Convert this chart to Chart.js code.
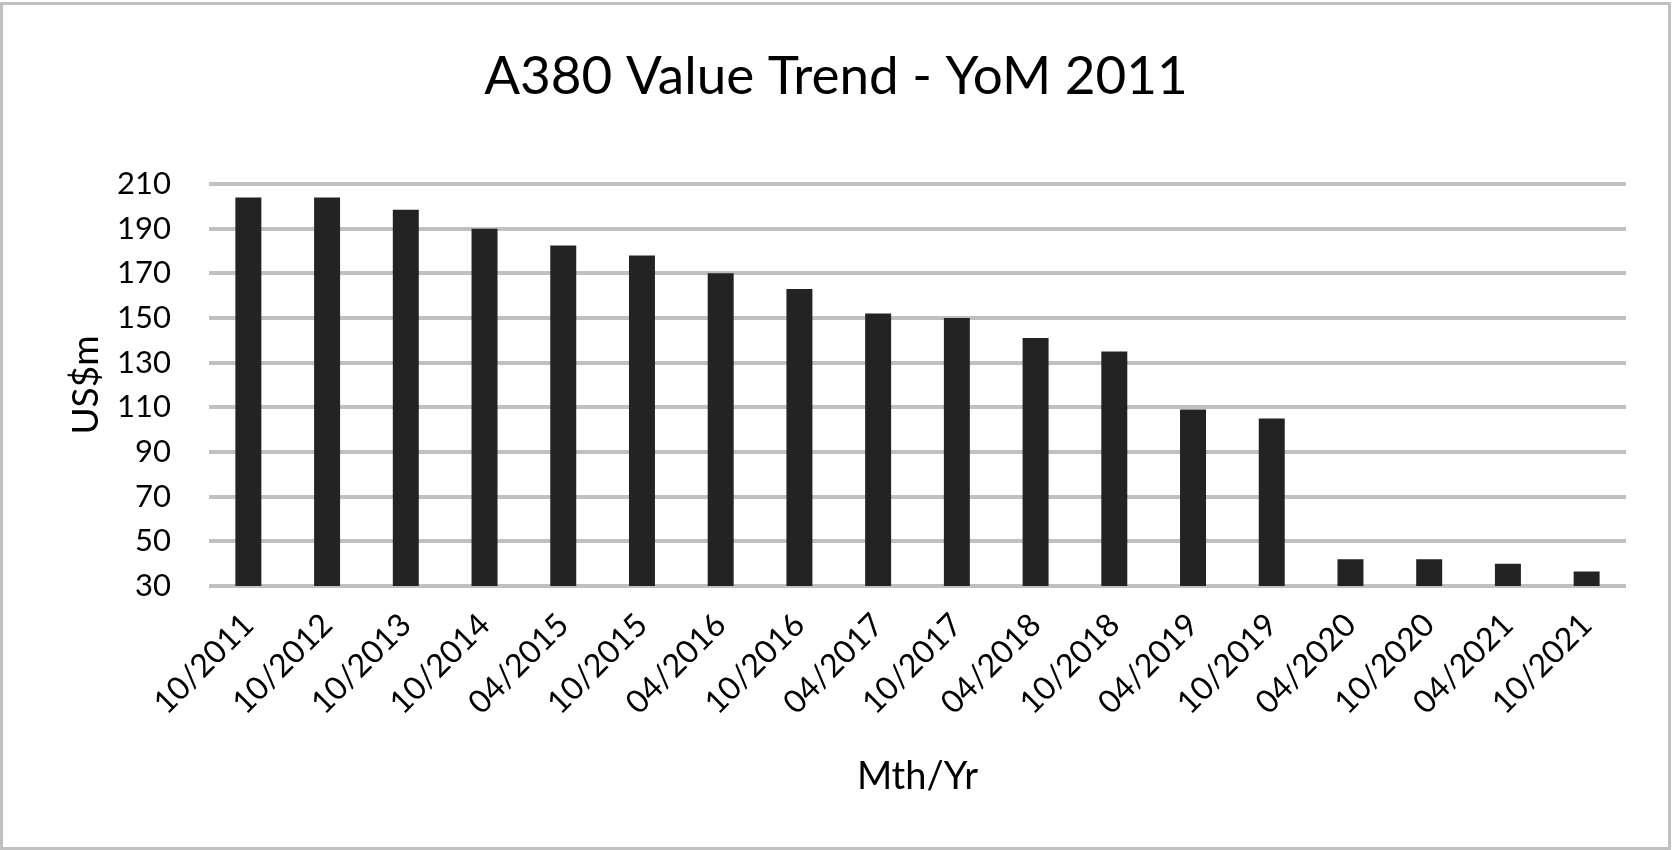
<!DOCTYPE html>
<html>
<head>
<meta charset="utf-8">
<script src="https://cdn.jsdelivr.net/npm/chart.js@4"></script>
<style>
  html, body { margin: 0; padding: 0; background: #fff; }
  #wrap { position: relative; width: 1677px; height: 850px; }
  #frame {
    position: absolute; left: 0; top: 2px; width: 1671px; height: 848px;
    box-sizing: border-box; border: 3px solid #c0c0c0; pointer-events: none;
  }
</style>
</head>
<body>
<div id="wrap">
  <canvas id="valueChart" width="1677" height="850"></canvas>
  <div id="frame"></div>
</div>
<script>
// A380 YoM 2011 values
const periods = [
  "10/2011", "10/2012", "10/2013", "10/2014", "04/2015", "10/2015",
  "04/2016", "10/2016", "04/2017", "10/2017", "04/2018", "10/2018",
  "04/2019", "10/2019", "04/2020", "10/2020", "04/2021", "10/2021"
];
const valuesUSDm = [
  204, 204, 198.5, 190, 182.5, 178,
  170, 163, 152, 150, 141, 135,
  109, 105, 42, 42, 40, 36.5
];
const yTicks = [30, 50, 70, 90, 110, 130, 150, 170, 190, 210];

const font = "Lato";

function renderChart() {
  const ctx = document.getElementById("valueChart").getContext("2d");

  new Chart(ctx, {
    type: "bar",
    data: {
      labels: periods,
      datasets: [
        {
          label: "US$m",
          data: valuesUSDm,
          backgroundColor: "#232323",
          barPercentage: 0.33,
          categoryPercentage: 1,
        },
      ],
    },
    options: {
      responsive: false,
      animation: false,
      devicePixelRatio: 1,
      layout: { padding: { left: 46, right: 51, top: 0, bottom: 50 } },
      plugins: {
        legend: { display: false },
        tooltip: { enabled: false },
        title: {
          display: true,
          text: "A380 Value Trend - YoM 2011",
          color: "#000",
          font: { family: font, size: 53, weight: "normal" },
          padding: { top: 45, bottom: 75.4 },
        },
      },
      scales: {
        x: {
          grid: { display: false, drawTicks: false },
          border: { display: false },
          ticks: {
            color: "#000",
            font: { family: font, size: 32 },
            minRotation: 45,
            maxRotation: 45,
            padding: 20,
            autoSkip: false,
          },
          title: {
            display: true,
            text: "Mth/Yr",
            color: "#000",
            font: { family: font, size: 38 },
            padding: 0,
          },
          afterFit: (scale) => { scale.height = 214; },
        },
        y: {
          min: yTicks[0],
          max: yTicks[yTicks.length - 1],
          afterBuildTicks: (scale) => {
            scale.ticks = yTicks.map((v) => ({ value: v }));
          },
          grid: { color: "#c0c0c0", lineWidth: 4, drawTicks: false },
          border: { display: false },
          ticks: {
            color: "#000",
            font: { family: font, size: 31 },
            padding: 38,
          },
          title: {
            display: true,
            text: "US$m",
            color: "#000",
            font: { family: font, size: 37 },
            padding: { top: 18, bottom: 0 },
          },
          afterFit: (scale) => { scale.width = 163; },
        },
      },
    },
  });
}

window.onload = renderChart;
</script>
</body>
</html>
